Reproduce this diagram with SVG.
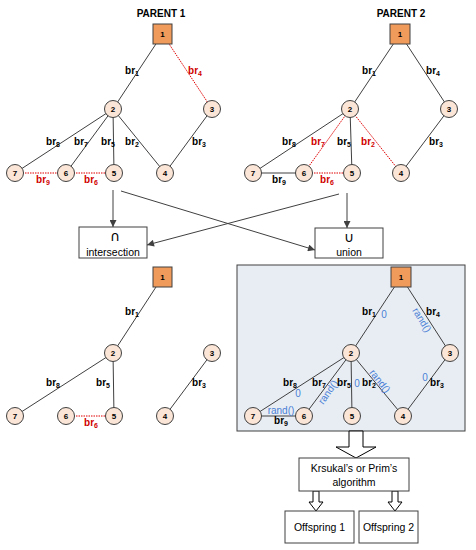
<svg xmlns="http://www.w3.org/2000/svg" width="476" height="550" viewBox="0 0 476 550">
<defs>
<style>
.e{stroke:#404040;stroke-width:1;fill:none}
.r{stroke:#e00000;stroke-width:1;stroke-dasharray:1.5 1;fill:none}
.c{fill:#fbe5d6;stroke:#404040;stroke-width:1}
.s{fill:#f09a5b;stroke:#404040;stroke-width:1}
.n{font-family:"Liberation Sans",Arial,sans-serif;font-size:8px;font-weight:bold;text-anchor:middle;fill:#000}
.l{font-family:"Liberation Sans",Arial,sans-serif;font-size:10px;font-weight:bold;text-anchor:middle;fill:#000}
.lr{font-family:"Liberation Sans",Arial,sans-serif;font-size:10px;font-weight:bold;text-anchor:middle;fill:#d00000}
.sub{font-size:7px}
.b{font-family:"Liberation Sans",Arial,sans-serif;font-size:10px;fill:#4a7fd4;text-anchor:middle}
.t{font-family:"Liberation Sans",Arial,sans-serif;font-size:10.5px;text-anchor:middle;fill:#000}
.sym{font-family:"DejaVu Sans",sans-serif;font-size:14px;text-anchor:middle;fill:#000}
.h{font-family:"Liberation Sans",Arial,sans-serif;font-size:10px;font-weight:bold;text-anchor:middle;fill:#000}
.bx{fill:#fff;stroke:#404040;stroke-width:1}
.a{stroke:#404040;stroke-width:1;fill:none;marker-end:url(#ah)}
</style>
<marker id="ah" viewBox="0 0 10 10" refX="10" refY="5" markerWidth="8" markerHeight="7" markerUnits="userSpaceOnUse" orient="auto">
<path d="M0,0 L10,5 L0,10 z" fill="#404040"/>
</marker>
</defs>
<rect width="476" height="550" fill="#fff"/>

<text class="h" x="161" y="17">PARENT 1</text>
<text class="h" x="401" y="17">PARENT 2</text>

<rect id="union-area" x="237" y="265" width="228" height="166" fill="#e8edf4" stroke="#404040" stroke-width="1"/>

<g id="connectors">
<!-- parent 1 -->
<line class="e" x1="162.5" y1="34" x2="113" y2="109"/>
<line class="r" x1="162.5" y1="34" x2="212" y2="109"/>
<line class="e" x1="113" y1="109" x2="15" y2="173"/>
<line class="e" x1="113" y1="109" x2="66" y2="173"/>
<line class="e" x1="113" y1="109" x2="114" y2="173"/>
<line class="e" x1="113" y1="109" x2="165" y2="173"/>
<line class="e" x1="212" y1="109" x2="165" y2="173"/>
<line class="r" x1="15" y1="173" x2="66" y2="173"/>
<line class="r" x1="66" y1="173" x2="114" y2="173"/>
<!-- parent 2 -->
<line class="e" x1="400" y1="34" x2="350" y2="109"/>
<line class="e" x1="400" y1="34" x2="449" y2="109"/>
<line class="e" x1="350" y1="109" x2="253" y2="173"/>
<line class="r" x1="350" y1="109" x2="304" y2="173"/>
<line class="e" x1="350" y1="109" x2="352" y2="173"/>
<line class="r" x1="350" y1="109" x2="401" y2="173"/>
<line class="e" x1="449" y1="109" x2="401" y2="173"/>
<line class="e" x1="253" y1="173" x2="304" y2="173" stroke-width="1.5"/>
<line class="r" x1="304" y1="173" x2="352" y2="173"/>
<!-- intersection result -->
<line class="e" x1="162.5" y1="277" x2="113" y2="353"/>
<line class="e" x1="113" y1="353" x2="15" y2="416"/>
<line class="e" x1="113" y1="353" x2="114" y2="416"/>
<line class="e" x1="212" y1="353" x2="165" y2="416"/>
<line class="r" x1="66" y1="416" x2="114" y2="416"/>
<!-- union result -->
<line class="e" x1="401" y1="277" x2="351" y2="353"/>
<line class="e" x1="401" y1="277" x2="450" y2="353"/>
<line class="e" x1="351" y1="353" x2="253" y2="416"/>
<line class="e" x1="351" y1="353" x2="304" y2="416"/>
<line class="e" x1="351" y1="353" x2="352" y2="416"/>
<line class="e" x1="351" y1="353" x2="403" y2="416"/>
<line class="e" x1="450" y1="353" x2="403" y2="416"/>
<line class="e" x1="253" y1="416" x2="304" y2="416" stroke-width="1.5"/>
<!-- set operation arrows -->
<line class="a" x1="113" y1="190" x2="113" y2="227"/>
<line class="a" x1="121" y1="191" x2="315" y2="250"/>
<line class="a" x1="339" y1="194" x2="147" y2="245"/>
<line class="a" x1="347" y1="193" x2="347" y2="228"/>
<!-- hollow arrows -->
<polygon points="349,431 363,431 363,447 376,447 356,458 336,447 349,447" fill="#fff" stroke="#000" stroke-width="1"/>
<polygon points="313,491 319,491 319,502 323,502 316,511 309,502 313,502" fill="#fff" stroke="#000" stroke-width="1"/>
<polygon points="392,491 398,491 398,502 402,502 395,511 388,502 392,502" fill="#fff" stroke="#000" stroke-width="1"/>
</g>

<g id="edge-labels">
<text class="l" x="132" y="74">br<tspan class="sub" dy="2">1</tspan></text>
<text class="lr" x="195" y="74">br<tspan class="sub" dy="2">4</tspan></text>
<text class="l" x="53" y="145">br<tspan class="sub" dy="2">8</tspan></text>
<text class="l" x="81" y="145">br<tspan class="sub" dy="2">7</tspan></text>
<text class="l" x="108" y="145">br<tspan class="sub" dy="2">5</tspan></text>
<text class="l" x="132" y="145">br<tspan class="sub" dy="2">2</tspan></text>
<text class="l" x="199" y="145">br<tspan class="sub" dy="2">3</tspan></text>
<text class="lr" x="43" y="183">br<tspan class="sub" dy="2">9</tspan></text>
<text class="lr" x="91" y="183">br<tspan class="sub" dy="2">6</tspan></text>

<text class="l" x="369" y="74">br<tspan class="sub" dy="2">1</tspan></text>
<text class="l" x="433" y="74">br<tspan class="sub" dy="2">4</tspan></text>
<text class="l" x="289" y="145">br<tspan class="sub" dy="2">8</tspan></text>
<text class="lr" x="318" y="145">br<tspan class="sub" dy="2">7</tspan></text>
<text class="l" x="344" y="145">br<tspan class="sub" dy="2">5</tspan></text>
<text class="lr" x="368" y="145">br<tspan class="sub" dy="2">2</tspan></text>
<text class="l" x="436" y="145">br<tspan class="sub" dy="2">3</tspan></text>
<text class="l" x="279" y="183">br<tspan class="sub" dy="2">9</tspan></text>
<text class="lr" x="327" y="183">br<tspan class="sub" dy="2">6</tspan></text>

<text class="l" x="132" y="315">br<tspan class="sub" dy="2">1</tspan></text>
<text class="l" x="53" y="386">br<tspan class="sub" dy="2">8</tspan></text>
<text class="l" x="103" y="386">br<tspan class="sub" dy="2">5</tspan></text>
<text class="l" x="199" y="386">br<tspan class="sub" dy="2">3</tspan></text>
<text class="lr" x="91" y="426">br<tspan class="sub" dy="2">6</tspan></text>

<text class="l" x="369" y="315">br<tspan class="sub" dy="2">1</tspan></text>
<text class="b" x="384" y="318">0</text>
<text class="l" x="433" y="315">br<tspan class="sub" dy="2">4</tspan></text>
<text class="b" transform="translate(422,320) rotate(58)" x="0" y="3.5">rand()</text>
<text class="l" x="290" y="386">br<tspan class="sub" dy="2">8</tspan></text>
<text class="b" x="298" y="397">0</text>
<text class="l" x="319" y="386">br<tspan class="sub" dy="2">7</tspan></text>
<text class="b" transform="translate(328,392) rotate(-55)" x="0" y="3.5">rand()</text>
<text class="l" x="344" y="386">br<tspan class="sub" dy="2">5</tspan></text>
<text class="b" x="357" y="387">0</text>
<text class="l" x="369" y="386">br<tspan class="sub" dy="2">2</tspan></text>
<text class="b" transform="translate(380,381) rotate(52)" x="0" y="3.5">rand()</text>
<text class="b" x="425" y="381">0</text>
<text class="l" x="437" y="386">br<tspan class="sub" dy="2">3</tspan></text>
<text class="b" x="281" y="414">rand()</text>
<text class="l" x="281" y="424">br<tspan class="sub" dy="2">9</tspan></text>
</g>

<!-- Parent 1 nodes -->
<g id="p1-n1"><rect class="s" x="153" y="24" width="19" height="20"/><text class="n" x="162.5" y="37">1</text></g>
<g id="p1-n2"><circle class="c" cx="113" cy="109" r="8.5"/><text class="n" x="113" y="112">2</text></g>
<g id="p1-n3"><circle class="c" cx="212" cy="109" r="8.5"/><text class="n" x="212" y="112">3</text></g>
<g id="p1-n4"><circle class="c" cx="165" cy="173" r="8.5"/><text class="n" x="165" y="176">4</text></g>
<g id="p1-n5"><circle class="c" cx="114" cy="173" r="8.5"/><text class="n" x="114" y="176">5</text></g>
<g id="p1-n6"><circle class="c" cx="66" cy="173" r="8.5"/><text class="n" x="66" y="176">6</text></g>
<g id="p1-n7"><circle class="c" cx="15" cy="173" r="8.5"/><text class="n" x="15" y="176">7</text></g>

<!-- Parent 2 nodes -->
<g id="p2-n1"><rect class="s" x="390" y="24" width="20" height="20"/><text class="n" x="400" y="37">1</text></g>
<g id="p2-n2"><circle class="c" cx="350" cy="109" r="8.5"/><text class="n" x="350" y="112">2</text></g>
<g id="p2-n3"><circle class="c" cx="449" cy="109" r="8.5"/><text class="n" x="449" y="112">3</text></g>
<g id="p2-n4"><circle class="c" cx="401" cy="173" r="8.5"/><text class="n" x="401" y="176">4</text></g>
<g id="p2-n5"><circle class="c" cx="352" cy="173" r="8.5"/><text class="n" x="352" y="176">5</text></g>
<g id="p2-n6"><circle class="c" cx="304" cy="173" r="8.5"/><text class="n" x="304" y="176">6</text></g>
<g id="p2-n7"><circle class="c" cx="253" cy="173" r="8.5"/><text class="n" x="253" y="176">7</text></g>

<!-- Set operation boxes -->
<g id="intersection"><rect class="bx" x="79" y="227" width="68" height="31"/><text class="sym" x="115" y="241">∩</text><text class="t" x="113" y="255.5">intersection</text></g>
<g id="union"><rect class="bx" x="315" y="228" width="68" height="30"/><text class="sym" x="349" y="241.5">∪</text><text class="t" x="349" y="256">union</text></g>

<!-- Intersection result nodes -->
<g id="i-n1"><rect class="s" x="153" y="267" width="19" height="20"/><text class="n" x="162.5" y="280">1</text></g>
<g id="i-n2"><circle class="c" cx="113" cy="353" r="8.5"/><text class="n" x="113" y="356">2</text></g>
<g id="i-n3"><circle class="c" cx="212" cy="353" r="8.5"/><text class="n" x="212" y="356">3</text></g>
<g id="i-n4"><circle class="c" cx="165" cy="416" r="8.5"/><text class="n" x="165" y="419">4</text></g>
<g id="i-n5"><circle class="c" cx="114" cy="416" r="8.5"/><text class="n" x="114" y="419">5</text></g>
<g id="i-n6"><circle class="c" cx="66" cy="416" r="8.5"/><text class="n" x="66" y="419">6</text></g>
<g id="i-n7"><circle class="c" cx="15" cy="416" r="8.5"/><text class="n" x="15" y="419">7</text></g>

<!-- Union result nodes -->
<g id="u-n1"><rect class="s" x="391" y="267" width="20" height="20"/><text class="n" x="401" y="280">1</text></g>
<g id="u-n2"><circle class="c" cx="351" cy="353" r="8.5"/><text class="n" x="351" y="356">2</text></g>
<g id="u-n3"><circle class="c" cx="450" cy="353" r="8.5"/><text class="n" x="450" y="356">3</text></g>
<g id="u-n4"><circle class="c" cx="403" cy="416" r="8.5"/><text class="n" x="403" y="419">4</text></g>
<g id="u-n5"><circle class="c" cx="352" cy="416" r="8.5"/><text class="n" x="352" y="419">5</text></g>
<g id="u-n6"><circle class="c" cx="304" cy="416" r="8.5"/><text class="n" x="304" y="419">6</text></g>
<g id="u-n7"><circle class="c" cx="253" cy="416" r="8.5"/><text class="n" x="253" y="419">7</text></g>

<!-- Algorithm and offspring -->
<g id="algorithm"><rect class="bx" x="299" y="458" width="110" height="33"/><text class="t" x="354" y="472">Krsukal’s or Prim’s</text><text class="t" x="354" y="486">algorithm</text></g>
<g id="offspring1"><rect class="bx" x="285" y="511" width="69" height="32"/><text class="t" x="319.5" y="531">Offspring 1</text></g>
<g id="offspring2"><rect class="bx" x="359" y="511" width="59" height="32"/><text class="t" x="388.5" y="531">Offspring 2</text></g>
</svg>
